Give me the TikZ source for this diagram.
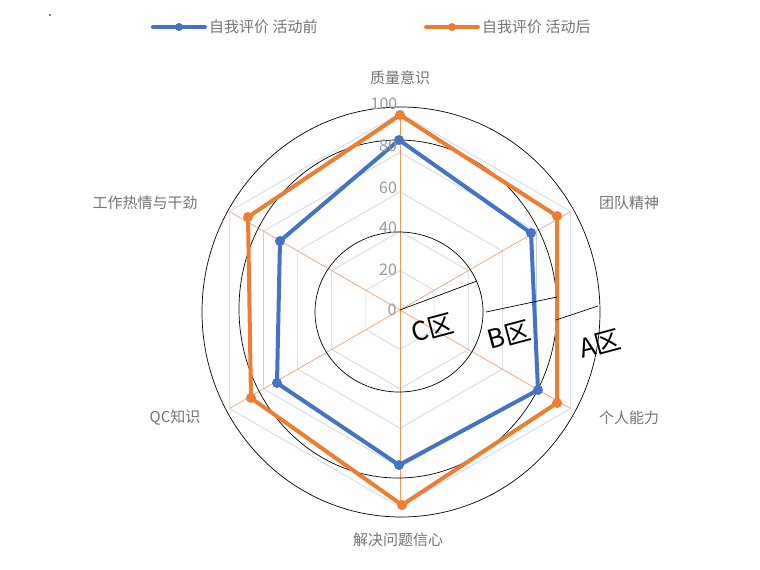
\documentclass[tikz,border=0pt]{standalone}
\usepackage{fontspec}
\setmainfont{Noto Sans CJK SC}
\usetikzlibrary{calc}
\begin{document}
\begin{tikzpicture}[x=1pt,y=-1pt,
  lab/.style={text=gray!90!black,font=\fontsize{15}{15}\selectfont,inner sep=1pt},
  tick/.style={text=gray!80,font=\fontsize{16}{16}\selectfont,inner sep=0pt},
  zone/.style={font=\fontsize{26}{26}\selectfont,inner sep=0pt,rotate=15},
  bluel/.style={draw={rgb,255:red,68;green,114;blue,196},line width=4pt,line join=round},
  orgl/.style={draw={rgb,255:red,237;green,125;blue,49},line width=4pt,line join=round}]
\useasboundingbox (0,0) rectangle (760,570);
\definecolor{bl}{RGB}{68,114,196}
\definecolor{og}{RGB}{237,125,49}
\coordinate (O) at (400,310);
% grid hexagons
\foreach \r in {39.4,78.8,118.2,157.6,197}{
  \draw[color={rgb,255:red,200;green,212;blue,230},line width=0.7pt] ($(O)+(0,{-\r})$) \foreach \a in {150,210,270,330,30}{ -- ($(O)+({\r*cos(\a)},{-\r*sin(\a)})$)} -- cycle;
}
\foreach \a in {90,30,-30,-90,-150,150}{
  \draw[og!80,line width=0.6pt] (O) -- ($(O)+({197*cos(\a)},{-197*sin(\a)})$);
}
% circles
\draw[black,line width=0.7pt] (399,312) ellipse [x radius=84,y radius=80];
\draw[black,line width=0.7pt] (398,309) ellipse [x radius=159,y radius=169];
\draw[black,line width=0.7pt] (401,312) ellipse [x radius=199,y radius=205];
% series
\coordinate (o1) at (400,115); \coordinate (o2) at (557,216); \coordinate (o3) at (557,403);
\coordinate (o4) at (402,505); \coordinate (o5) at (251,398); \coordinate (o6) at (248,217);
\coordinate (b1) at (399,140); \coordinate (b2) at (531,233); \coordinate (b3) at (538,390);
\coordinate (b4) at (399,465); \coordinate (b5) at (277,383); \coordinate (b6) at (280,241);
\draw[orgl] (o1)--(o2)--(o3)--(o4)--(o5)--(o6)--cycle;
\foreach \n in {o1,o2,o3,o4,o5,o6}\fill[og] (\n) circle (5);
\draw[bluel] (b1)--(b2)--(b3)--(b4)--(b5)--(b6)--cycle;
\foreach \n in {b1,b2,b3,b4,b5,b6}\fill[bl] (\n) circle (5);
% zone lines
\coordinate (z1) at (477,281);
\coordinate (z2a) at (486,312); \coordinate (z2b) at (557,297);
\coordinate (z3a) at (556,320); \coordinate (z3b) at (598,306);
\draw[black,line width=0.7pt] (O)--(z1);
\draw[black,line width=0.7pt] (z2a)--(z2b);
\draw[black,line width=0.7pt] (z3a)--(z3b);
\node[zone] (C) at (433,328) {C区};
\node[zone] (B) at (509,335) {B区};
\node[zone] (A) at (600,344) {A区};
% ticks
\node[tick] (t100) at (384,104) {100};
\node[tick] (t80) at (388,146) {80};
\node[tick] (t60) at (388,188) {60};
\node[tick] (t40) at (388,228) {40};
\node[tick] (t20) at (388,270) {20};
\node[tick] (t0) at (392,310) {0};
% axis labels
\node[lab] (l1) at (400,78) {质量意识};
\node[lab] (l2) at (629,203) {团队精神};
\node[lab] (l3) at (629,418) {个人能力};
\node[lab] (l4) at (398,540) {解决问题信心};
\node[lab] (l5) at (175,418) {QC知识};
\node[lab] (l6) at (145,203) {工作热情与干劲};
% legend
\fill[black] (50,15) circle (0.8);
\coordinate (lb1) at (153,27); \coordinate (lb2) at (205,27);
\draw[bluel,line cap=round] (lb1)--(lb2); \fill[bl] (179,27) circle (4);
\node[lab,anchor=west] (lgb) at (208,27) {自我评价 活动前};
\coordinate (lo1) at (426,27); \coordinate (lo2) at (478,27);
\draw[orgl,line cap=round] (lo1)--(lo2); \fill[og] (452,27) circle (4);
\node[lab,anchor=west] (lgo) at (481,27) {自我评价 活动后};
\end{tikzpicture}
\end{document}
